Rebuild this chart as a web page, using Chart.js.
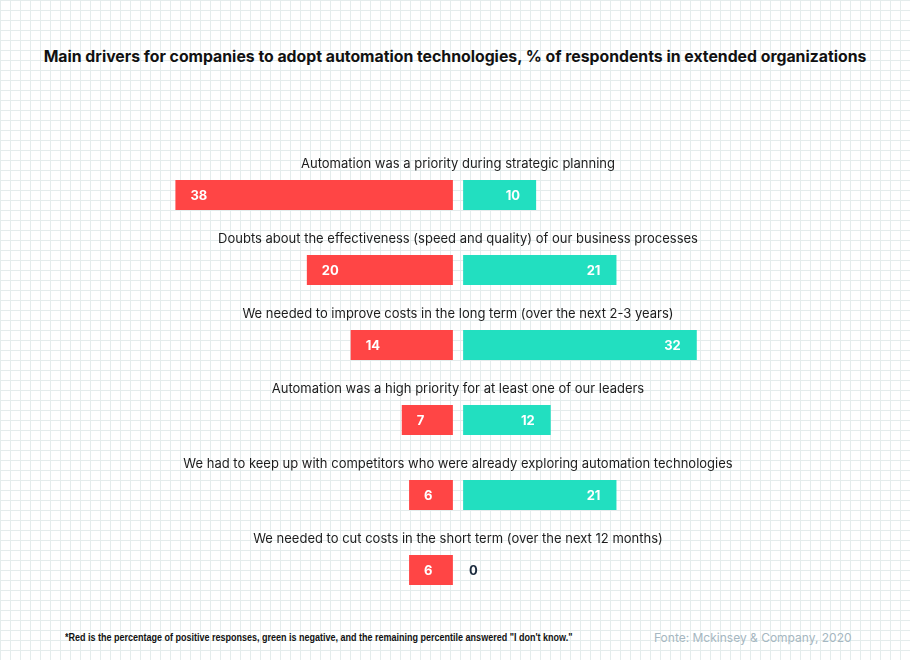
<!DOCTYPE html>
<html>
<head>
<meta charset="utf-8">
<title>Main drivers for automation</title>
<script src="https://cdn.jsdelivr.net/npm/chart.js@4.4.1/dist/chart.umd.min.js"></script>
<style>
  html, body {
    margin: 0;
    padding: 0;
  }
  body {
    width: 910px;
    height: 660px;
    position: relative;
    overflow: hidden;
    font-family: Inter, "Noto Sans", sans-serif;
    background-color: #ffffff;
    background-image:
      linear-gradient(to right, #e4ecec 1px, transparent 1px),
      linear-gradient(to bottom, #e4ecec 1px, transparent 1px);
    background-size: 10px 10px;
  }
  #title {
    position: absolute;
    top: 47px;
    left: 0;
    width: 910px;
    text-align: center;
    font-weight: bold;
    font-size: 15.8px;
    color: #111111;
  }
  #wrap {
    position: absolute;
    left: 0;
    top: 100px;
    width: 910px;
    height: 520px;
  }
  #note {
    position: absolute;
    left: 65px;
    top: 632px;
    font-family: "Liberation Sans", sans-serif;
    font-weight: bold;
    font-size: 10px;
    color: #111111;
    transform: scaleX(0.9);
    transform-origin: 0 0;
    white-space: nowrap;
  }
  #source {
    position: absolute;
    left: 654px;
    top: 630px;
    font-size: 12px;
    color: #a6b7c1;
  }
</style>
</head>
<body>
<div id="title">Main drivers for companies to adopt automation technologies, % of respondents in extended organizations</div>
<div id="wrap"><canvas id="drivers"></canvas></div>
<div id="note">*Red is the percentage of positive responses, green is negative, and the remaining percentile answered "I don't know."</div>
<div id="source">Fonte: Mckinsey &amp; Company, 2020</div>

<script>
const categories = [
  "Automation was a priority during strategic planning",
  "Doubts about the effectiveness (speed and quality) of our business processes",
  "We needed to improve costs in the long term (over the next 2-3 years)",
  "Automation was a high priority for at least one of our leaders",
  "We had to keep up with competitors who were already exploring automation technologies",
  "We needed to cut costs in the short term (over the next 12 months)"
];
const positive = [38, 20, 14, 7, 6, 6]; // red
const negative = [10, 21, 32, 12, 21, 0]; // green

const RED = "#ff4545";
const GREEN = "#22dfc0";

// category text above each pair of bars + values inside bars
var labelsPlugin = {
  id: "rowLabels",
  afterDatasetsDraw: function (chart) {
    var ctx = chart.ctx;
    var area = chart.chartArea;
    var mid = (area.left + area.right) / 2;
    var yScale = chart.scales.y;
    ctx.save();
    ctx.textBaseline = "middle";

    ctx.font = "13px Inter";
    ctx.fillStyle = "#1c1c1c";
    ctx.textAlign = "center";
    categories.forEach(function (c, i) {
      ctx.fillText(c, mid, yScale.getPixelForValue(i) - 30.5);
    });

    ctx.font = "bold 13px Inter";
    chart.getDatasetMeta(0).data.forEach(function (bar, i) {
      ctx.fillStyle = "#ffffff";
      ctx.textAlign = "left";
      ctx.fillText(positive[i], bar.x + 15, bar.y + 1);
    });
    chart.getDatasetMeta(1).data.forEach(function (bar, i) {
      if (negative[i] > 0) {
        ctx.fillStyle = "#ffffff";
        ctx.textAlign = "right";
        ctx.fillText(negative[i], bar.x - 16, bar.y + 1);
      } else {
        ctx.fillStyle = "#1b2a3d";
        ctx.textAlign = "left";
        ctx.fillText(negative[i], bar.base + 6, bar.y + 1);
      }
    });
    ctx.restore();
  }
};

var ctx = document.getElementById("drivers").getContext("2d");
var chart = new Chart(ctx, {
  type: "bar",
  data: {
    labels: categories,
    datasets: [
      {
        label: "Positive",
        data: positive,
        backgroundColor: RED,
        xAxisID: "xL",
        barThickness: 30,
        inflateAmount: 0
      },
      {
        label: "Negative",
        data: negative,
        backgroundColor: GREEN,
        xAxisID: "xR",
        barThickness: 30,
        inflateAmount: 0
      }
    ]
  },
  options: {
    indexAxis: "y",
    responsive: true,
    maintainAspectRatio: false,
    animation: false,
    layout: {
      padding: { left: 6, right: 0, top: 57.5, bottom: 12.5 }
    },
    plugins: {
      legend: { display: false },
      tooltip: { enabled: false }
    },
    scales: {
      y: {
        display: false
      },
      xL: {
        type: "linear",
        position: "bottom",
        stack: "halves",
        reverse: true,
        min: -0.7,
        max: 61.2,
        display: false
      },
      xR: {
        type: "linear",
        position: "bottom",
        stack: "halves",
        min: -0.7,
        max: 61.2,
        display: false
      }
    },
    datasets: {
      bar: { grouped: false }
    }
  },
  plugins: [labelsPlugin]
});
</script>
</body>
</html>
